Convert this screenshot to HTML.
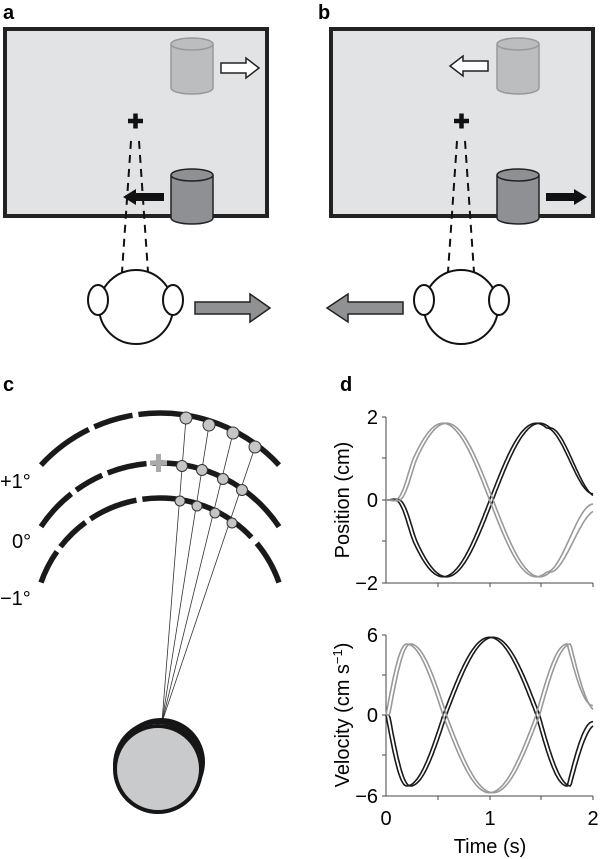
<!DOCTYPE html>
<html><head><meta charset="utf-8"><style>
body{margin:0;background:#fff;width:600px;height:859px;overflow:hidden}
svg{display:block}
text{font-family:"Liberation Sans",sans-serif}
</style></head><body>
<svg id="s" width="600" height="859" viewBox="0 0 600 859" xmlns="http://www.w3.org/2000/svg">
<text x="3" y="19" font-size="20" font-weight="bold">a</text>
<text x="318" y="19" font-size="20" font-weight="bold">b</text>
<text x="3" y="391" font-size="20" font-weight="bold">c</text>
<text x="340" y="391" font-size="20" font-weight="bold">d</text>

<!-- panel a -->
<rect x="5" y="29" width="262" height="187" fill="#e2e3e5" stroke="#222" stroke-width="4"/>
<g stroke="#999" stroke-width="1.5" fill="#bcbdbf">
<path d="M171,44 V88 A21,6 0 0 0 213,88 V44"/>
<ellipse cx="192" cy="44" rx="21" ry="6"/>
</g>
<polygon points="221,63 246,63 246,58 259,68 246,78 246,73 221,73" fill="#fff" stroke="#222" stroke-width="1.5"/>
<path d="M128,121 H143 M135.5,113.5 V128.5" stroke="#111" stroke-width="4.5"/>
<g stroke="#111" stroke-width="2" stroke-dasharray="8,6">
<path d="M131,141 L122,272"/><path d="M139,141 L148,272"/>
</g>
<polygon points="164,193 136,193 136,189 123,197 136,205 136,201 164,201" fill="#111"/>
<g stroke="#222" stroke-width="1.5" fill="#8f9093">
<path d="M171,175 V218 A21,6 0 0 0 213,218 V175"/>
<ellipse cx="192" cy="175" rx="21" ry="6"/>
</g>
<circle cx="136" cy="307" r="37" fill="#fff" stroke="#111" stroke-width="2"/>
<ellipse cx="98" cy="300" rx="10" ry="15" fill="#fff" stroke="#111" stroke-width="2"/>
<ellipse cx="173" cy="300" rx="10" ry="15" fill="#fff" stroke="#111" stroke-width="2"/>
<polygon points="195,302 250,302 250,294 270,308 250,322 250,314 195,314" fill="#909193" stroke="#222" stroke-width="1.5"/>

<!-- panel b -->
<rect x="331" y="29" width="262" height="187" fill="#e2e3e5" stroke="#222" stroke-width="4"/>
<g stroke="#999" stroke-width="1.5" fill="#bcbdbf">
<path d="M497,44 V88 A21,6 0 0 0 539,88 V44"/>
<ellipse cx="518" cy="44" rx="21" ry="6"/>
</g>
<polygon points="488,61 463,61 463,56 450,66 463,76 463,71 488,71" fill="#fff" stroke="#222" stroke-width="1.5"/>
<path d="M454,121 H469 M461.5,113.5 V128.5" stroke="#111" stroke-width="4.5"/>
<g stroke="#111" stroke-width="2" stroke-dasharray="8,6">
<path d="M457,141 L448,272"/><path d="M465,141 L474,272"/>
</g>
<polygon points="546,193 574,193 574,189 587,197 574,205 574,201 546,201" fill="#111"/>
<g stroke="#222" stroke-width="1.5" fill="#8f9093">
<path d="M497,175 V218 A21,6 0 0 0 539,218 V175"/>
<ellipse cx="518" cy="175" rx="21" ry="6"/>
</g>
<circle cx="461" cy="307" r="37" fill="#fff" stroke="#111" stroke-width="2"/>
<ellipse cx="424" cy="300" rx="10" ry="15" fill="#fff" stroke="#111" stroke-width="2"/>
<ellipse cx="499" cy="300" rx="10" ry="15" fill="#fff" stroke="#111" stroke-width="2"/>
<polygon points="403,302 348,302 348,294 327,308 348,322 348,314 403,314" fill="#909193" stroke="#222" stroke-width="1.5"/>

<!-- panel c -->
<g id="arcs" fill="none" stroke="#1a1a1a" stroke-width="5.5"></g>
<g id="clines" stroke="#333" stroke-width="0.8"></g>
<path d="M150,463 H167 M158.5,454 V472" stroke="#aaa" stroke-width="5"/>
<g id="dots" fill="#c4c5c7" stroke="#333" stroke-width="1"></g>
<text x="0" y="488" font-size="20">+1°</text>
<text x="12" y="548" font-size="20">0°</text>
<text x="0" y="605" font-size="20">−1°</text>
<g fill="#c9cacc" stroke="#161616" stroke-width="4">
<circle cx="161" cy="762" r="42"/>
<circle cx="158" cy="765" r="43"/>
<circle cx="158" cy="769" r="43"/>
</g>

<!-- panel d -->
<g stroke="#444" stroke-width="1" fill="none">
<path d="M386,417 V583 H593"/>
<path d="M382,417 H386 M382,458 H386 M382,500 H386 M382,541 H386 M382,583 H386 M438,583 V587 M490,583 V587 M541,583 V587 M593,583 V587"/>
<path d="M386,635 V796 H593"/>
<path d="M382,635 H386 M382,675 H386 M382,715 H386 M382,755 H386 M382,796 H386 M438,796 V800 M490,796 V800 M541,796 V800 M593,796 V800"/>
</g>
<g font-size="20" text-anchor="end">
<text x="378" y="424">2</text><text x="378" y="507">0</text><text x="378" y="590">−2</text>
<text x="378" y="642">6</text><text x="378" y="722">0</text><text x="378" y="803">−6</text>
</g>
<g font-size="20" text-anchor="middle">
<text x="386" y="825">0</text><text x="490" y="825">1</text><text x="593" y="825">2</text>
<text x="490" y="853">Time (s)</text>
<text transform="translate(349,500) rotate(-90)">Position (cm)</text>
<text transform="translate(349,715) rotate(-90)">Velocity (cm s<tspan font-size="13" dy="-7">−1</tspan><tspan dy="7">)</tspan></text>
</g>
<g id="curves" fill="none" stroke-width="1.6"></g>
</svg>
<script>
(function(){
var NS="http://www.w3.org/2000/svg";
function add(g,tag,at){var e=document.createElementNS(NS,tag);for(var k in at)e.setAttribute(k,at[k]);document.getElementById(g).appendChild(e);return e;}
var arcs=[[160,575,162,"60,6,40,6,45,6,900"],[160,606,143,"45,6,30,6,40,6,900"],[160,624,126,"35,6,35,6,50,6,120,8,900"]];
arcs.forEach(function(a){
 var cx=a[0],cy=a[1],R=a[2];var dx=119,dy=Math.sqrt(R*R-dx*dx);
 add("arcs","path",{d:"M"+(cx-dx)+","+(cy-dy)+" A"+R+","+R+" 0 0 1 "+(cx+dx)+","+(cy-dy),"stroke-dasharray":a[3]});
});
var tp=[[186,418],[209,425],[233,433],[255,447]],md=[[182,466],[202,470],[223,479],[242,490]],bt=[[180,501],[197,506],[215,513],[232,523]];
tp.forEach(function(p){add("clines","line",{x1:p[0],y1:p[1],x2:162,y2:722});});
tp.concat(md,bt).forEach(function(p,i){add("dots","circle",{cx:p[0],cy:p[1],r:i<4?6:(i<8?5.5:5)});});
function ss(x){x=Math.max(0,Math.min(1,x));return x*x*(3-2*x);}
function P(t,sh,endv){t=t-sh;
 var base=-1.85*Math.sin(Math.PI*(t-0.1)/0.9);
 var y=base*ss((t-0.02)/0.25);
 if(t>1.55){var A=-1.85*Math.sin(Math.PI*1.45/0.9);var u=(t-1.55)/0.45;y=endv+(A-endv)*(1-ss(u));}
 return y;}
function V(t,sh,endv){t=t-sh;var v=-5.8*Math.cos(Math.PI*(t-0.1)/0.9);
 if(t<0.2){v=-5.3*Math.sin(Math.PI/2*Math.max(0,t)/0.2);}
 else if(t<0.55){v=-5.3*Math.cos(Math.PI/2*(t-0.2)/0.35);}
 else if(t>=1.45&&t<=1.75){v=-5.3*Math.sin(Math.PI/2*(t-1.45)/0.3);}
 else if(t>1.75){v=-5.3+(5.3-endv)*Math.sin(Math.PI/2*Math.min(1,(t-1.75)/0.25));}
 return v;}
function path(f,X0,Y0,sy,sign){var d="";for(var i=0;i<=200;i++){var t=i/100;var y=sign*f(t);d+=(i?"L":"M")+(X0+t*103.5).toFixed(1)+","+(Y0-y*sy).toFixed(1);}return d;}
[[0,"#1a1a1a",1,0.15,0.5],[0.035,"#1a1a1a",1,0.08,0.7],[0,"#999",-1,0.1,0.7],[0.035,"#999",-1,0.25,0.3]].forEach(function(c){
 var sh=c[0],col=c[1],sign=c[2],ev=c[3],vv=c[4];
 add("curves","path",{d:path(function(t){return P(t,sh,ev);},386,500,41.5,sign),stroke:col});
 add("curves","path",{d:path(function(t){return V(t,sh,vv);},386,715,13.4,sign),stroke:col});
});
})();
</script>
</body></html>
